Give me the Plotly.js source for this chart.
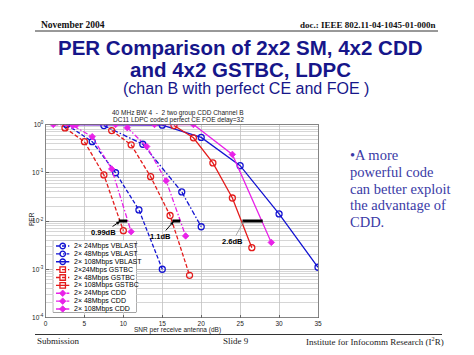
<!DOCTYPE html>
<html><head><meta charset="utf-8">
<script src="https://cdn.plot.ly/plotly-3.0.1.min.js"></script>
<style>html,body{margin:0;padding:0;background:#fff;}#c{width:474px;height:355px;}</style>
</head><body><div id="c"></div>
<script>
// ---- data (SNR in dB, PER) ----
const snr24V = [2.7, 6, 9, 12, 15];
const per24V = [1, 0.44, 0.10, 0.017, 0.001];
const snr48V = [7.5, 12.5, 17.5, 20];
const per48V = [0.95, 0.39, 0.04, 0.0076];
const snr108V = [2.7, 15, 20, 25, 30, 35];
const per108V = [1, 0.97, 0.54, 0.14, 0.014, 0.0011];
const snr24G = [2.5, 5, 7.5, 10];
const per24G = [0.85, 0.44, 0.09, 0.0063];
const snr48G = [8.5, 11, 13.5, 16, 18.5];
const per48G = [0.75, 0.38, 0.083, 0.013, 0.00075];
const snr108G = [16.5, 19, 21.5, 24, 26.5];
const per108G = [0.95, 0.53, 0.16, 0.030, 0.0028];
const snr24C = [1, 3.5, 6, 8.5, 11];
const per24C = [1, 0.95, 0.56, 0.12, 0.006];
const snr48C = [10.5, 13, 15.5, 18];
const per48C = [0.86, 0.35, 0.068, 0.0049];
const snr108C = [4, 9, 14, 19, 24, 29];
const per108C = [1, 1, 1, 1, 0.24, 0.0036];

const seriesNames = ['2\u00d7 24Mbps VBLAST','2\u00d7 48Mbps VBLAST','2\u00d7 108Mbps VBLAST',
  '2\u00d724Mbps GSTBC','2\u00d7 48Mbps GSTBC','2\u00d7 108Mbps GSTBC',
  '2\u00d7 24Mbps CDD','2\u00d7 48Mbps CDD','2\u00d7 108Mbps CDD'];

// gain annotations (horizontal bars at PER = 0.01)
const deltaX0 = [9.4, 16.3, 25.3];
const deltaX1 = [10.5, 17.3, 27.9];
const deltaPER = 0.01;
const deltaLabels = ['0.99dB', '1.1dB', '2.6dB'];

const xTickVals = [0, 5, 10, 15, 20, 25, 30, 35];
const yTickVals = [1, 0.1, 0.01, 0.001, 0.0001];
const yTickText = ['10<sup>0</sup>', '10<sup>-1</sup>', '10<sup>-2</sup>', '10<sup>-3</sup>', '10<sup>-4</sup>'];

// ---- styling ----
const W = 474, H = 355;
const px = v => v / W, py = v => 1 - v / H;
const BLUE = '#1414d2', RED = '#e41c1c', MAG = '#e822e8';
const DASH = '4px,2px', DASHDOT = '5px,2px,1.5px,2px';
const SANS = 'Liberation Sans, Arial';

const xs = [snr24V, snr48V, snr108V, snr24G, snr48G, snr108G, snr24C, snr48C, snr108C];
const ys = [per24V, per48V, per108V, per24G, per48G, per108G, per24C, per48C, per108C];
const colors = [BLUE, BLUE, BLUE, RED, RED, RED, MAG, MAG, MAG];
const dashes = [DASH, DASHDOT, 'solid', DASH, DASH, 'solid', DASHDOT, DASHDOT, 'solid'];
const symbols = ['circle-open','circle-open','circle-open','circle-open','circle-open','circle-open','diamond','diamond','diamond'];
const legSymbols = ['circle-open','circle-open','circle-open','square-open','square-open','square-open','diamond','diamond','diamond'];

const traces = [];
for (let i = 0; i < 9; i++) {
  const filled = symbols[i] === 'diamond';
  traces.push({
    x: xs[i], y: ys[i], type: 'scatter', mode: 'lines+markers', showlegend: false,
    line: {color: colors[i], width: 1.3, dash: dashes[i]},
    marker: {symbol: symbols[i], size: filled ? 5 : 6, color: colors[i], line: {color: colors[i], width: filled ? 0.8 : 1.3}},
    xaxis: 'x', yaxis: 'y', hoverinfo: 'skip'
  });
}
// delta bars
for (let k = 0; k < deltaX0.length; k++) {
  traces.push({x: [deltaX0[k], deltaX1[k]], y: [deltaPER, deltaPER], type: 'scatter', mode: 'lines',
    line: {color: '#000', width: 2.8}, showlegend: false, xaxis: 'x', yaxis: 'y', hoverinfo: 'skip'});
}
// custom legend on overlay axes
for (let i = 0; i < 9; i++) {
  traces.push({x: [2.7, 16], y: [i, i], type: 'scatter', mode: 'lines',
    line: {color: colors[i], width: 1.3, dash: dashes[i]}, showlegend: false, xaxis: 'x2', yaxis: 'y2', hoverinfo: 'skip'});
  traces.push({x: [9.4], y: [i], type: 'scatter', mode: 'markers',
    marker: {symbol: legSymbols[i], size: legSymbols[i] === 'diamond' ? 5 : 5.5, color: colors[i], line: {color: colors[i], width: legSymbols[i] === 'diamond' ? 0.8 : 1.3}},
    showlegend: false, xaxis: 'x2', yaxis: 'y2', hoverinfo: 'skip'});
}

const ann = [];
function txt(t, x, y, size, opts) {
  ann.push(Object.assign({text: t, x: px(x), y: py(y), xref: 'paper', yref: 'paper', showarrow: false,
    xanchor: 'center', yanchor: 'middle', font: {size: size, family: SANS, color: '#000'}}, opts || {}));
}
const serifB = 'Liberation Serif, Times New Roman';
txt('<b>November 2004</b>', 39, 25, 9.5, {xanchor: 'left', font: {size: 9.5, family: serifB, color: '#111'}});
txt('<b>doc.: IEEE 802.11-04-1045-01-000n</b>', 438, 25, 9, {xanchor: 'right', font: {size: 9, family: serifB, color: '#111'}});
const NAVY = '#16168a';
txt('<b>PER Comparison of 2x2 SM, 4x2 CDD</b>', 240, 47.5, 20.5, {font: {size: 20.5, family: SANS, color: NAVY}});
txt('<b>and 4x2 GSTBC, LDPC</b>', 240, 69.5, 20.5, {font: {size: 20.5, family: SANS, color: NAVY}});
txt('(chan B with perfect CE and FOE )', 246, 88.5, 16, {font: {size: 16, family: SANS, color: NAVY}});
txt('40 MHz BW 4  -  2 two group CDD Channel B', 178, 112.5, 6.5, {font: {size: 6.5, family: SANS, color: '#222'}});
txt('DC11 LDPC coded perfect CE FOE delay=32', 178, 120, 6.5, {font: {size: 6.5, family: SANS, color: '#222'}});
txt('SNR per receive antenna (dB)', 177, 329.5, 6.5, {font: {size: 6.5, family: SANS, color: '#222'}});
txt('PER', 32, 219, 6.5, {textangle: -90, font: {size: 6.5, family: SANS, color: '#222'}});
const RT = '#3a3aa6';
const rightLines = ['\u2022A more', 'powerful code', 'can better exploit', 'the advantage of', 'CDD.'];
rightLines.forEach((t, i) => txt(t, 348, 155 + i * 16.8, 14.5, {xanchor: 'left', font: {size: 14.5, family: serifB, color: RT}}));
txt('Submission', 35, 341, 9, {xanchor: 'left', font: {size: 9, family: serifB, color: '#222'}});
txt('Slide 9', 236, 341, 9, {font: {size: 9, family: serifB, color: '#222'}});
txt('Institute for Infocomm Research (I<sup>2</sup>R)', 446, 341, 9, {xanchor: 'right', font: {size: 9, family: serifB, color: '#222'}});

// legend texts
for (let i = 0; i < 9; i++) {
  ann.push({text: seriesNames[i], x: 18.2, y: i, xref: 'x2', yref: 'y2', showarrow: false, xanchor: 'left', yanchor: 'middle',
    font: {size: 7, family: SANS, color: '#000'}});
}
// delta labels with arrows
const lblOff = [[-16, 11], [-13, 15], [-11, 20]];
for (let k = 0; k < deltaX0.length; k++) {
  ann.push({text: '<b>' + deltaLabels[k] + '</b>', x: deltaX0[k] + 0.15, y: Math.log10(deltaPER) - 0.01, xref: 'x', yref: 'y',
    showarrow: true, arrowhead: 2, arrowsize: 0.7, arrowwidth: k === 2 ? 0.7 : 1, arrowcolor: k === 2 ? '#888' : '#000',
    ax: lblOff[k][0], ay: lblOff[k][1], font: {size: 7.5, family: SANS, color: '#000'}});
}

const xDom = [px(45.5), px(318)];
const yDom = [py(317.5), py(124.5)];
const layout = {
  width: W, height: H, margin: {l: 0, r: 0, t: 0, b: 0}, paper_bgcolor: '#fff', plot_bgcolor: '#fff',
  showlegend: false,
  xaxis: {domain: xDom, range: [0, 35], tickvals: xTickVals, showgrid: true, gridcolor: '#c0c0c0', gridwidth: 0.8,
    zeroline: false, showline: true, linecolor: '#666', linewidth: 0.8, mirror: true, ticks: 'inside', ticklen: 3, tickcolor: '#666',
    tickfont: {size: 6.5, family: SANS, color: '#222'}, anchor: 'y'},
  yaxis: {domain: yDom, type: 'log', range: [-4, 0], tickvals: yTickVals, ticktext: yTickText, showgrid: true, gridcolor: '#b4b4b4', gridwidth: 0.8,
    minor: {dtick: 'D1', showgrid: true, gridcolor: '#cccccc', gridwidth: 0.8, ticks: ''},
    zeroline: false, showline: true, linecolor: '#666', linewidth: 0.8, mirror: true, ticks: 'inside', ticklen: 3, tickcolor: '#666',
    tickfont: {size: 6.5, family: SANS, color: '#222'}, anchor: 'x'},
  xaxis2: {domain: [px(53.3), px(136)], range: [0, 82.7], visible: false, anchor: 'y2', fixedrange: true},
  yaxis2: {domain: [py(312.3), py(241)], range: [8.419, -0.635], visible: false, anchor: 'x2', fixedrange: true},
  annotations: ann,
  shapes: [
    {type: 'line', xref: 'paper', yref: 'paper', x0: px(35), x1: px(438), y0: py(31), y1: py(31), line: {color: '#333', width: 1}},
    {type: 'line', xref: 'paper', yref: 'paper', x0: px(35), x1: px(442), y0: py(334.5), y1: py(334.5), line: {color: '#333', width: 1}},
    {type: 'rect', xref: 'x2 domain', yref: 'y2 domain', x0: 0, x1: 1, y0: 0, y1: 1, fillcolor: '#fff', line: {color: '#333', width: 0.8}, layer: 'below'}
  ]
};
Plotly.newPlot('c', traces, layout, {staticPlot: true, displayModeBar: false});
</script></body></html>
